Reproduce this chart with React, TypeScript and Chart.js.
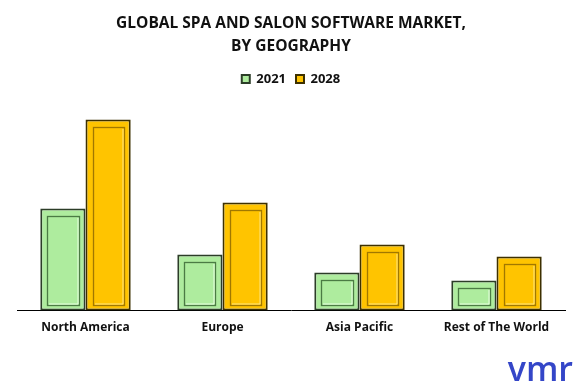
import React, { useEffect, useRef } from "react";
import { Chart, registerables } from "chart.js";

Chart.register(...registerables);

const categories = ["North America", "Europe", "Asia Pacific", "Rest of The World"];
const seriesLabels = ["2021", "2028"];
const values2021 = [102, 56, 38, 30];
const values2028 = [191, 108, 66, 54];
const titleLines = ["GLOBAL SPA AND SALON SOFTWARE MARKET,", "BY GEOGRAPHY"];

const innerPanel = {
  id: "innerPanel",
  afterDatasetsDraw(chart: any) {
    const ctx = chart.ctx;
    const colors = [
      { dark: "rgba(50,95,45,0.8)", light: "rgba(235,255,230,0.95)" },
      { dark: "rgba(130,95,0,0.75)", light: "rgba(255,232,140,0.95)" },
    ];
    chart.data.datasets.forEach((_: any, di: number) => {
      const meta = chart.getDatasetMeta(di);
      meta.data.forEach((bar: any) => {
        const { x, y, base, width } = bar.getProps(["x", "y", "base", "width"], true);
        const l = Math.round(x - width / 2 + 7) + 0.5;
        const r = Math.round(x + width / 2 - 7) + 0.5;
        const t = Math.round(y + 7) + 0.5;
        const b = Math.round(base - 6) + 0.5;
        if (r - l < 2 || b - t < 2) return;
        ctx.save();
        ctx.lineWidth = 1.3;
        ctx.strokeStyle = colors[di].dark;
        ctx.strokeRect(l, t, r - l, b - t);
        ctx.lineWidth = 1;
        ctx.strokeStyle = colors[di].light;
        ctx.beginPath();
        ctx.moveTo(l + 1.5, b - 1.5);
        ctx.lineTo(r - 1.5, b - 1.5);
        ctx.lineTo(r - 1.5, t + 1.5);
        ctx.stroke();
        ctx.restore();
      });
    });
  },
  afterDraw(chart: any) {
    const ctx = chart.ctx;
    ctx.save();
    ctx.fillStyle = "#3446c8";
    ctx.font = "600 34px 'Open Sans'";
    ctx.textAlign = "right";
    ctx.textBaseline = "alphabetic";
    ctx.fillText("vmr", 573, 381);
    ctx.restore();
  },
};

export default function App() {
  const ref = useRef<HTMLCanvasElement | null>(null);
  useEffect(() => {
    if (!ref.current) return;
    const chart = new Chart(ref.current, {
      type: "bar",
      data: {
        labels: categories,
        datasets: [
          {
            label: seriesLabels[0],
            data: values2021,
            backgroundColor: "#aeec9e",
            borderColor: "#2c3d28",
            borderWidth: 2,
            borderSkipped: false,
          },
          {
            label: seriesLabels[1],
            data: values2028,
            backgroundColor: "#ffc400",
            borderColor: "#3d3000",
            borderWidth: 2,
            borderSkipped: false,
          },
        ],
      },
      options: {
        animation: false,
        responsive: false,
        maintainAspectRatio: false,
        layout: { padding: { left: 17, right: 12, top: 4, bottom: 41 } },
        plugins: {
          title: {
            display: true,
            text: titleLines,
            color: "#111",
            font: { family: "'Open Sans'", size: 15.5, weight: "bold", lineHeight: 1.5 },
            padding: { top: 8, bottom: 4 },
          },
          legend: {
            display: true,
            labels: {
              color: "#111",
              font: { family: "'Open Sans'", size: 13, weight: "bold" },
              boxWidth: 8,
              boxHeight: 8,
              padding: 10,
            },
          },
          tooltip: { enabled: false },
        },
        scales: {
          x: {
            grid: { display: false, drawTicks: false },
            border: { display: true, color: "#000", width: 1 },
            ticks: {
              color: "#111",
              font: { family: "'Open Sans'", size: 12, weight: "bold" },
              padding: 10,
              maxRotation: 0,
            },
          },
          y: {
            display: false,
            min: 0,
            max: 215,
          },
        },
        datasets: { bar: { categoryPercentage: 0.66, barPercentage: 1 } } as any,
      },
      plugins: [innerPanel],
    });
    return () => chart.destroy();
  }, []);
  return (
    <div style={{ position: "absolute", left: 0, top: 0, width: 577, height: 386, background: "#fff" }}>
      <canvas ref={ref} width={577} height={386} style={{ width: 577, height: 386 }} />
    </div>
  );
}
